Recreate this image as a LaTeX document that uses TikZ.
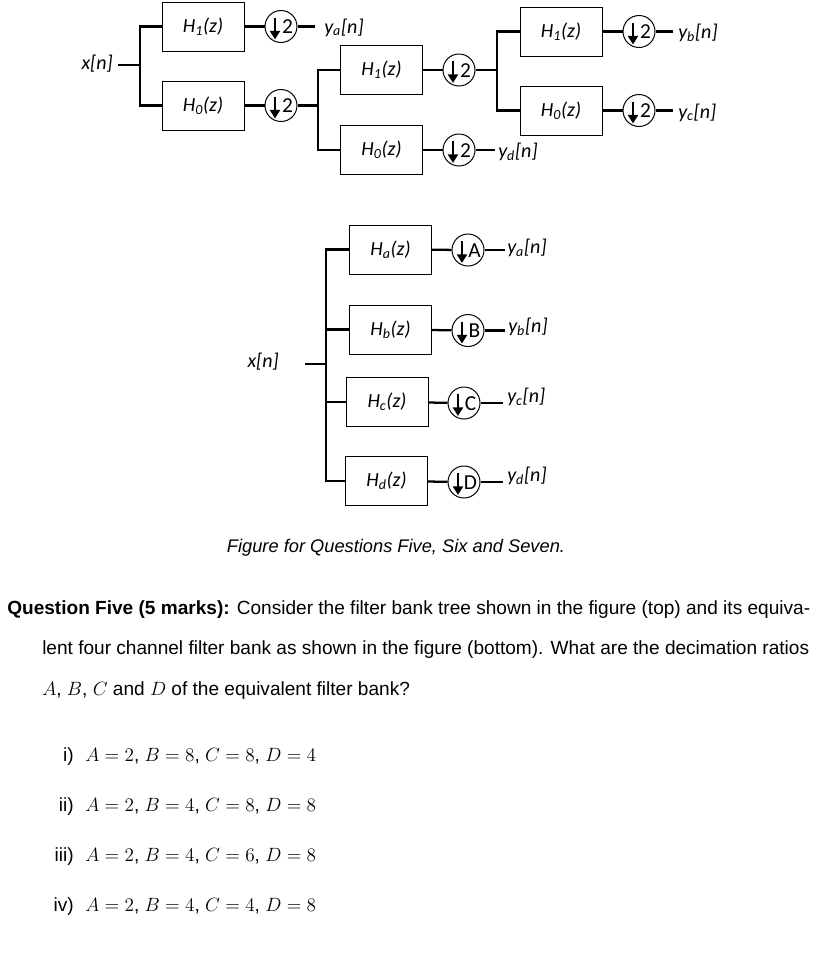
\documentclass[tikz,border=0pt]{standalone}
\usepackage{fontspec}
\setmainfont{Liberation Sans}
\newfontfamily\carl{Carlito}
\newfontfamily\bodyf{Liberation Sans}
\newfontfamily\capf{Liberation Sans}
\usetikzlibrary{arrows.meta,calc}
\newcommand\dsamp[3]{%
  \node[dec] (#1) at (#2) {};
  \draw[darr] ($(#1.center)+(-6,-9)$) -- ($(#1.center)+(-6,13)$);
  \node[dlab] (#1t) at ($(#1.center)+(6.5,0.5)$) {#3};
}
\tikzset{
  wire/.style={line width=1.7pt},
  filt/.style={draw, line width=0.75pt, minimum width=61.5pt, minimum height=36.75pt, inner sep=0pt, font=\carl\itshape\fontsize{15}{18}\selectfont},
  dec/.style={draw, circle, line width=0.75pt, minimum size=24pt, inner sep=0pt},
  darr/.style={line width=1.9pt, -{Triangle[length=6.5pt,width=7.5pt]}},
  dlab/.style={inner sep=0pt, font=\carl\fontsize{16}{19}\selectfont},
  sig/.style={inner sep=0pt, anchor=west, font=\carl\itshape\fontsize{15}{18}\selectfont},
  body/.style={inner sep=0pt, anchor=base west, font=\bodyf\fontsize{14.3}{17}\selectfont},
}
\begin{document}
\begin{tikzpicture}[x=0.75pt,y=-0.75pt]
\useasboundingbox (0,0) rectangle (824,954);
% ---------- top tree ----------
\node[filt] (H1a) at (203,26.5) {H\textsubscript{1}(z)};
\node[filt] (H0a) at (203,105.5) {H\textsubscript{0}(z)};
\node[filt] (H1b) at (381.5,70) {H\textsubscript{1}(z)};
\node[filt] (H0b) at (381.5,150) {H\textsubscript{0}(z)};
\node[filt] (H1c) at (561,31.5) {H\textsubscript{1}(z)};
\node[filt] (H0c) at (561,110.5) {H\textsubscript{0}(z)};
\dsamp{D1}{281,26.5}{2}
\dsamp{D2}{281,105.5}{2}
\dsamp{D3}{459,70}{2}
\dsamp{D4}{459,150}{2}
\dsamp{D5}{639,31.5}{2}
\dsamp{D6}{639,110.5}{2}
\coordinate (xin) at (118,65);
\coordinate (j1) at (140,65);
\coordinate (j2) at (318,105.5);
\coordinate (j3) at (497,70);
\coordinate (oa) at (315,26.5);
\coordinate (ob) at (673,31.5);
\coordinate (oc) at (673,110.5);
\coordinate (od) at (495,150);
\node[sig, anchor=east] (xl) at (113,64) {x[n]};
\draw[wire] (xin) -- (j1);
\draw[wire] (j1) |- (H1a.west);
\draw[wire] (j1) |- (H0a.west);
\draw[wire] (H1a) -- (D1);
\draw[wire] (H0a) -- (D2);
\draw[wire] (D1) -- (oa);
\draw[wire] (D2) -- (j2);
\draw[wire] (j2) |- (H1b.west);
\draw[wire] (j2) |- (H0b.west);
\draw[wire] (H1b) -- (D3);
\draw[wire] (H0b) -- (D4);
\draw[wire] (D3) -- (j3);
\draw[wire] (D4) -- (od);
\draw[wire] (j3) |- (H1c.west);
\draw[wire] (j3) |- (H0c.west);
\draw[wire] (H1c) -- (D5);
\draw[wire] (H0c) -- (D6);
\draw[wire] (D5) -- (ob);
\draw[wire] (D6) -- (oc);
\node[sig] (ya) at ($(oa)+(9,1)$) {y\textsubscript{a}[n]};
\node[sig] (yb) at ($(ob)+(5,1)$) {y\textsubscript{b}[n]};
\node[sig] (yc) at ($(oc)+(5,2)$) {y\textsubscript{c}[n]};
\node[sig] (yd) at ($(od)+(3,2)$) {y\textsubscript{d}[n]};
% ---------- bottom bank ----------
\node[filt] (Ha) at (390.5,249.5) {H\textsubscript{a}(z)};
\node[filt] (Hb) at (390.5,329.5) {H\textsubscript{b}(z)};
\node[filt] (Hc) at (387,402) {H\textsubscript{c}(z)};
\node[filt] (Hd) at (386.5,481) {H\textsubscript{d}(z)};
\dsamp{DA}{468,250}{A}
\dsamp{DB}{468,330.5}{B}
\dsamp{DC}{464,403}{C}
\dsamp{DD}{464,482}{D}
\coordinate (xin2) at (305,364);
\coordinate (jb) at (326,364);
\coordinate (oA) at (505,250);
\coordinate (oB) at (505,330.5);
\coordinate (oC) at (503,403);
\coordinate (oD) at (503,482);
\node[sig, anchor=east] (xl2) at (279,362) {x[n]};
\draw[wire] (xin2) -- (jb);
\draw[wire] (jb) |- (Ha.west);
\draw[wire] (jb) |- (Hd.west);
\draw[wire] (jb |- Hb.west) -- (Hb.west);
\draw[wire] (jb |- Hc.west) -- (Hc.west);
\draw[wire] (Ha) -- (DA);
\draw[wire] (Hb) -- (DB);
\draw[wire] (Hc) -- (DC);
\draw[wire] (Hd) -- (DD);
\draw[wire] (DA) -- (oA);
\draw[wire] (DB) -- (oB);
\draw[wire] (DC) -- (oC);
\draw[wire] (DD) -- (oD);
\node[sig] (yA) at ($(oA)+(2,-2)$) {y\textsubscript{a}[n]};
\node[sig] (yB) at ($(oB)+(3,-4)$) {y\textsubscript{b}[n]};
\node[sig] (yC) at ($(oC)+(4,-6)$) {y\textsubscript{c}[n]};
\node[sig] (yD) at ($(oD)+(4,-6)$) {y\textsubscript{d}[n]};
% ---------- caption and question ----------
\node[inner sep=0pt, font=\capf\itshape\fontsize{13.7}{16}\selectfont] (cap) at (396,548) {Figure for Questions Five, Six and Seven.};
\node[body] (q1) at (7,614) {\textbf{Question Five (5 marks):} Consider the filter bank tree shown in the figure (top) and its equiva-};
\node[body] (q2) at (42,654) {lent four channel filter bank as shown in the figure (bottom). What are the decimation ratios};
\node[body] (q3) at (42,695) {$A$, $B$, $C$ and $D$ of the equivalent filter bank?};
\node[body, anchor=base east] (o1l) at (74,761) {i)};
\node[body] (o1) at (85,761) {$A=2$, $B=8$, $C=8$, $D=4$};
\node[body, anchor=base east] (o2l) at (74,811) {ii)};
\node[body] (o2) at (85,811) {$A=2$, $B=4$, $C=8$, $D=8$};
\node[body, anchor=base east] (o3l) at (74,861) {iii)};
\node[body] (o3) at (85,861) {$A=2$, $B=4$, $C=6$, $D=8$};
\node[body, anchor=base east] (o4l) at (74,911) {iv)};
\node[body] (o4) at (85,911) {$A=2$, $B=4$, $C=4$, $D=8$};
\end{tikzpicture}
\end{document}
